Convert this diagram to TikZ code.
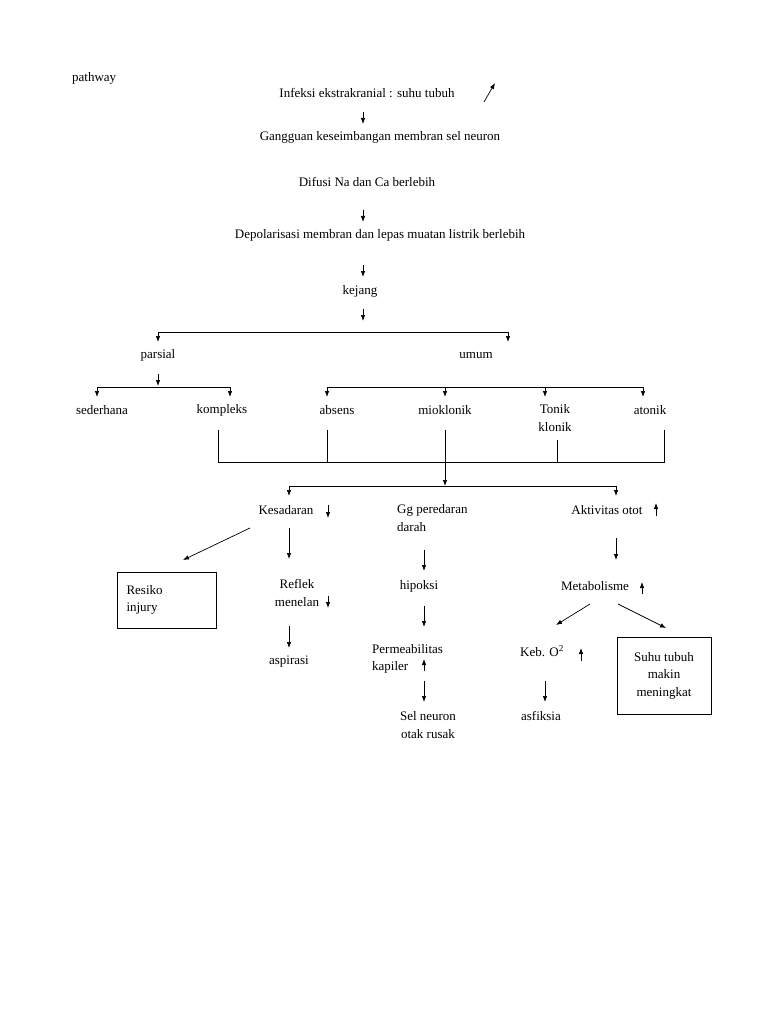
\documentclass[tikz,border=0pt]{standalone}
\usepackage{fontspec}
\setmainfont{Liberation Serif}
\usetikzlibrary{arrows.meta}
\begin{document}
\begin{tikzpicture}[x=1pt,y=-1pt,
 every node/.style={font=\fontsize{13}{17.5}\selectfont,inner sep=0pt},
 ar/.style={-{Latex[length=6pt,width=4.5pt]},line width=0.7pt},
 ln/.style={line width=0.7pt},
 bx/.style={draw,line width=0.7pt,minimum width=99pt,minimum height=56pt,align=left,text width=80pt}]
\useasboundingbox (0,0) rectangle (768,1024);
\node[anchor=west] (pw) at (72,78) {pathway};
\node (n1) at (367,93) {Infeksi ekstrakranial : suhu tubuh};
\coordinate (u1a) at (484,102); \coordinate (u1b) at (495,83);
\draw[ar] (u1a) -- (u1b);
\coordinate (a1) at (363,112); \coordinate (a1b) at (363,124); \draw[ar] (a1) -- (a1b);
\node (n2) at (380,137) {Gangguan keseimbangan membran sel neuron};
\node (n3) at (367,182) {Difusi Na dan Ca berlebih};
\coordinate (a2) at (363,210); \coordinate (a2b) at (363,222); \draw[ar] (a2) -- (a2b);
\node (n4) at (380,235) {Depolarisasi membran dan lepas muatan listrik berlebih};
\coordinate (a3) at (363,265); \coordinate (a3b) at (363,277); \draw[ar] (a3) -- (a3b);
\node (kej) at (360,291) {kejang};
\coordinate (a4) at (363,309); \coordinate (a4b) at (363,321); \draw[ar] (a4) -- (a4b);
\coordinate (h1l) at (158,332); \coordinate (h1r) at (508,332);
\coordinate (h1lb) at (158,342); \coordinate (h1rb) at (508,342);
\draw[ln] (h1l) -- (h1r); \draw[ar] (h1l) -- (h1lb); \draw[ar] (h1r) -- (h1rb);
\node (par) at (158,355) {parsial};
\node (umum) at (476,355) {umum};
\coordinate (a5) at (158,374); \coordinate (a5b) at (158,386); \draw[ar] (a5) -- (a5b);
\foreach \x/\n in {97/p1,230/p2,327/u1,445/u2,545/u3,643/u4}{
 \coordinate (\n t) at (\x,387); \coordinate (\n b) at (\x,397); \draw[ar] (\n t) -- (\n b);}
\draw[ln] (p1t) -- (p2t); \draw[ln] (u1t) -- (u4t);
\node (sed) at (102,410) {sederhana};
\node (kom) at (222,410) {kompleks};
\node (abs) at (337,410) {absens};
\node (mio) at (445,410) {mioklonik};
\node[align=center] (ton) at (555,418) {Tonik\\klonik};
\node (ato) at (650,410) {atonik};
\coordinate (v1) at (218,430); \coordinate (v1b) at (218,462);
\coordinate (v2) at (327,430); \coordinate (v2b) at (327,462);
\coordinate (v3) at (445,430); \coordinate (v3b) at (445,486);
\coordinate (v4) at (557,440); \coordinate (v4b) at (557,462);
\coordinate (v5) at (664,430); \coordinate (v5b) at (664,462);
\draw[ln] (v1) -- (v1b) -- (v5b) -- (v5); \draw[ln] (v2) -- (v2b); \draw[ln] (v4) -- (v4b);
\draw[ar] (v3) -- (v3b);
\coordinate (h2l) at (289,486); \coordinate (h2r) at (616,486);
\coordinate (h2lb) at (289,496); \coordinate (h2rb) at (616,496);
\draw[ln] (h2l) -- (h2r); \draw[ar] (h2l) -- (h2lb); \draw[ar] (h2r) -- (h2rb);
\node (kes) at (286,510) {Kesadaran};
\coordinate (s1) at (328,505); \coordinate (s1b) at (328,518); \draw[ar] (s1) -- (s1b);
\node[anchor=west,align=left] (gg) at (397,518) {Gg peredaran\\darah};
\node (akt) at (607,510) {Aktivitas otot};
\coordinate (s2) at (656,516); \coordinate (s2b) at (656,503); \draw[ar] (s2) -- (s2b);
\coordinate (d1) at (250,528); \coordinate (d1b) at (183,560); \draw[ar] (d1) -- (d1b);
\coordinate (d2) at (289,528); \coordinate (d2b) at (289,559); \draw[ar] (d2) -- (d2b);
\node[bx] (res) at (166.5,600) {Resiko\\injury};
\node[align=center] (ref) at (297,593) {Reflek\\menelan};
\coordinate (s3) at (328,596); \coordinate (s3b) at (328,608); \draw[ar] (s3) -- (s3b);
\coordinate (d3) at (289,626); \coordinate (d3b) at (289,648); \draw[ar] (d3) -- (d3b);
\node (asp) at (289,662) {aspirasi};
\coordinate (d4) at (424,550); \coordinate (d4b) at (424,571); \draw[ar] (d4) -- (d4b);
\node (hip) at (419,586) {hipoksi};
\coordinate (d5) at (424,606); \coordinate (d5b) at (424,627); \draw[ar] (d5) -- (d5b);
\node[anchor=west,align=left] (per) at (372,659) {Permeabilitas\\kapiler};
\coordinate (s4) at (424,671); \coordinate (s4b) at (424,659); \draw[ar] (s4) -- (s4b);
\coordinate (d6) at (424,681); \coordinate (d6b) at (424,702); \draw[ar] (d6) -- (d6b);
\node[align=center] (sel) at (428,725) {Sel neuron\\otak rusak};
\coordinate (d7) at (616,538); \coordinate (d7b) at (616,560); \draw[ar] (d7) -- (d7b);
\node (met) at (595,586) {Metabolisme};
\coordinate (s5) at (642,594); \coordinate (s5b) at (642,582); \draw[ar] (s5) -- (s5b);
\coordinate (d8) at (590,604); \coordinate (d8b) at (556,625); \draw[ar] (d8) -- (d8b);
\coordinate (d9) at (618,604); \coordinate (d9b) at (666,628); \draw[ar] (d9) -- (d9b);
\node (keb) at (542,651) {Keb. O\textsuperscript{2}};
\coordinate (s6) at (581,661); \coordinate (s6b) at (581,648); \draw[ar] (s6) -- (s6b);
\coordinate (d10) at (545,681); \coordinate (d10b) at (545,702); \draw[ar] (d10) -- (d10b);
\node (asf) at (541,716) {asfiksia};
\node[draw,line width=0.7pt,minimum width=94pt,minimum height=77pt,align=center] (suhu) at (664,675.5) {Suhu tubuh\\makin\\meningkat};
\end{tikzpicture}
\end{document}
